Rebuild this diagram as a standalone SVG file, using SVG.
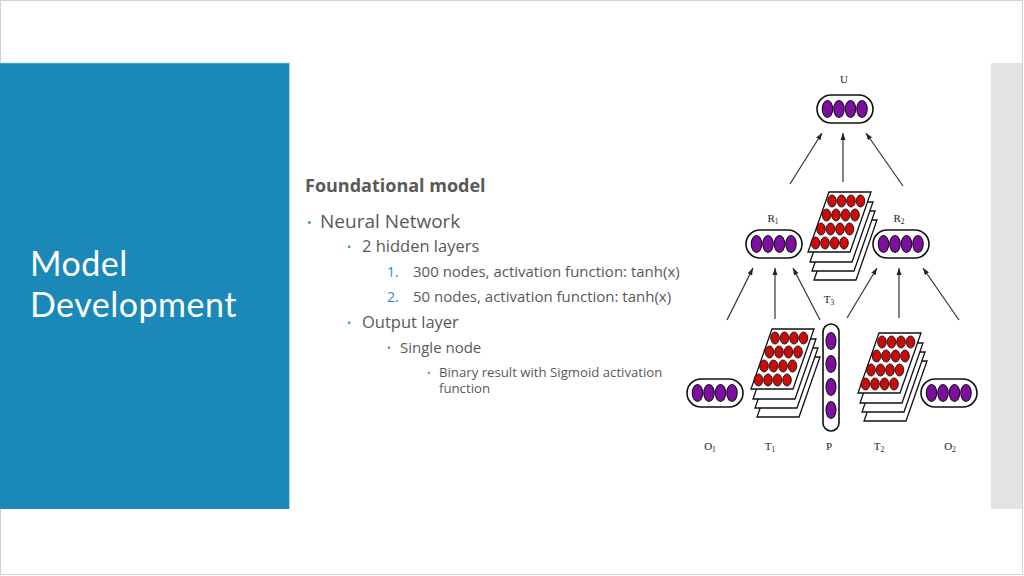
<svg xmlns="http://www.w3.org/2000/svg" xmlns:xlink="http://www.w3.org/1999/xlink" width="1024" height="576" viewBox="0 0 1024 576">
<style>
.body{font-family:"Open Sans","Noto Sans","DejaVu Sans",sans-serif;fill:#595959}
.teal{font-family:"Open Sans","Noto Sans","DejaVu Sans",sans-serif;fill:#2a8fbb}
.lbl{font-family:"Liberation Serif","DejaVu Serif",serif;font-size:11px;fill:#222;text-anchor:middle}
.sub{font-size:7.5px}
.pill{fill:#fff;stroke:#111;stroke-width:1.6}
.pc{fill:#7e0ea2;stroke:#111;stroke-width:1.1}
.rc{fill:#cc0a0a;stroke:#111;stroke-width:0.9}
.sheet{fill:#fff;stroke:#111;stroke-width:1.3}
.conn{stroke:#333;stroke-width:1.2;fill:none;marker-end:url(#ah)}
.ttl{font-family:Lato,"Open Sans",sans-serif;font-size:34px;fill:#fff;letter-spacing:0.5px}
</style>
<defs>
<marker id="ah" markerWidth="8" markerHeight="6" refX="7" refY="3" orient="auto" markerUnits="userSpaceOnUse">
<path d="M0,0.5 L7,3 L0,5.5 Z" fill="#222"/>
</marker>
<g id="hpill">
<rect class="pill" x="0" y="0" width="56" height="28" rx="14"/>
<ellipse class="pc" cx="10.5" cy="14" rx="5.2" ry="8.5"/>
<ellipse class="pc" cx="22" cy="14" rx="5.2" ry="8.5"/>
<ellipse class="pc" cx="33.5" cy="14" rx="5.2" ry="8.5"/>
<ellipse class="pc" cx="45" cy="14" rx="5.2" ry="8.5"/>
</g>
<polygon id="sh" class="sheet" points="0,0 42,0 21,60 -21,60"/>
<g id="stack">
<use xlink:href="#sh" transform="translate(6,28)"/>
<use xlink:href="#sh" transform="translate(4,19)"/>
<use xlink:href="#sh" transform="translate(2,10)"/>
<use xlink:href="#sh"/>
<ellipse class="rc" cx="3" cy="9" rx="4.3" ry="6"/>
<ellipse class="rc" cx="12.5" cy="9" rx="4.3" ry="6"/>
<ellipse class="rc" cx="22" cy="9" rx="4.3" ry="6"/>
<ellipse class="rc" cx="31.5" cy="9" rx="4.3" ry="6"/>
<ellipse class="rc" cx="-2.5" cy="23" rx="4.3" ry="6"/>
<ellipse class="rc" cx="7" cy="23" rx="4.3" ry="6"/>
<ellipse class="rc" cx="16.5" cy="23" rx="4.3" ry="6"/>
<ellipse class="rc" cx="26" cy="23" rx="4.3" ry="6"/>
<ellipse class="rc" cx="-8" cy="37" rx="4.3" ry="6"/>
<ellipse class="rc" cx="1.5" cy="37" rx="4.3" ry="6"/>
<ellipse class="rc" cx="11" cy="37" rx="4.3" ry="6"/>
<ellipse class="rc" cx="20.5" cy="37" rx="4.3" ry="6"/>
<ellipse class="rc" cx="-13.5" cy="51" rx="4.3" ry="6"/>
<ellipse class="rc" cx="-4" cy="51" rx="4.3" ry="6"/>
<ellipse class="rc" cx="5.5" cy="51" rx="4.3" ry="6"/>
<ellipse class="rc" cx="15" cy="51" rx="4.3" ry="6"/>
</g>
</defs>

<rect x="0.5" y="0.5" width="1022" height="574" fill="#fff" stroke="#d2d2d2" stroke-width="1"/>
<rect x="0" y="63" width="289" height="446" fill="#1a89b8"/>
<line x1="0" y1="63" x2="289.5" y2="63" stroke="#8fd3ef" stroke-width="0.8"/>
<line x1="289.5" y1="63" x2="289.5" y2="509" stroke="#8fd3ef" stroke-width="0.8"/>
<rect x="991" y="63" width="31" height="446" fill="#e3e3e3"/>

<g id="title">
<text class="ttl" x="30" y="276">Model</text>
<text class="ttl" x="30" y="317">Development</text>
</g>

<g id="bullets">
<text class="body" x="305" y="192" font-size="18" font-weight="bold">Foundational model</text>
<text class="teal" x="307" y="227" font-size="12">•</text>
<text class="body" x="320" y="228" font-size="19">Neural Network</text>
<text class="teal" x="347" y="251" font-size="11">•</text>
<text class="body" x="362" y="252" font-size="16.5">2 hidden layers</text>
<text class="teal" x="387" y="277" font-size="14">1.</text>
<text class="body" x="413" y="277" font-size="15">300 nodes, activation function: tanh(x)</text>
<text class="teal" x="387" y="302" font-size="14">2.</text>
<text class="body" x="413" y="302" font-size="15">50 nodes, activation function: tanh(x)</text>
<text class="teal" x="347" y="327" font-size="11">•</text>
<text class="body" x="362" y="328" font-size="16.5">Output layer</text>
<text class="teal" x="387" y="352" font-size="10">•</text>
<text class="body" x="400" y="353" font-size="15">Single node</text>
<text class="teal" x="427" y="376" font-size="9">•</text>
<text class="body" x="439" y="377" font-size="13.2">Binary result with Sigmoid activation</text>
<text class="body" x="439" y="393" font-size="13.2">function</text>
</g>

<g id="connectors">
<line class="conn" x1="790" y1="184" x2="822" y2="133"/>
<line class="conn" x1="843" y1="182" x2="843" y2="133"/>
<line class="conn" x1="903" y1="186" x2="866" y2="133"/>
<line class="conn" x1="727" y1="320" x2="753" y2="268"/>
<line class="conn" x1="775" y1="319" x2="775" y2="268"/>
<line class="conn" x1="820" y1="320" x2="793" y2="268"/>
<line class="conn" x1="847" y1="318" x2="877" y2="268"/>
<line class="conn" x1="899" y1="318" x2="899" y2="268"/>
<line class="conn" x1="959" y1="320" x2="923" y2="268"/>
</g>

<g id="node-U">
<use xlink:href="#hpill" transform="translate(817,95)"/>
<text class="lbl" x="844" y="83">U</text>
</g>
<g id="node-R1">
<use xlink:href="#hpill" transform="translate(746,230)"/>
<text class="lbl" x="773" y="222">R<tspan class="sub" dy="2">1</tspan></text>
</g>
<g id="node-R2">
<use xlink:href="#hpill" transform="translate(873,230)"/>
<text class="lbl" x="899" y="222">R<tspan class="sub" dy="2">2</tspan></text>
</g>
<g id="node-T3">
<use xlink:href="#stack" transform="translate(829,192)"/>
<text class="lbl" x="829" y="303">T<tspan class="sub" dy="2">3</tspan></text>
</g>
<g id="node-O1">
<use xlink:href="#hpill" transform="translate(687,379)"/>
<text class="lbl" x="710" y="450">O<tspan class="sub" dy="2">1</tspan></text>
</g>
<g id="node-T1">
<use xlink:href="#stack" transform="translate(772,329)"/>
<text class="lbl" x="770" y="450">T<tspan class="sub" dy="2">1</tspan></text>
</g>
<g id="node-P">
<rect class="pill" x="823" y="324" width="16" height="107" rx="8"/>
<ellipse class="pc" cx="831" cy="341" rx="5" ry="8.5"/>
<ellipse class="pc" cx="831" cy="364" rx="5" ry="8.5"/>
<ellipse class="pc" cx="831" cy="387" rx="5" ry="8.5"/>
<ellipse class="pc" cx="831" cy="410" rx="5" ry="8.5"/>
<text class="lbl" x="829" y="450">P</text>
</g>
<g id="node-T2">
<use xlink:href="#stack" transform="translate(879,333)"/>
<text class="lbl" x="879" y="450">T<tspan class="sub" dy="2">2</tspan></text>
</g>
<g id="node-O2">
<use xlink:href="#hpill" transform="translate(921,379)"/>
<text class="lbl" x="950" y="450">O<tspan class="sub" dy="2">2</tspan></text>
</g>
</svg>
